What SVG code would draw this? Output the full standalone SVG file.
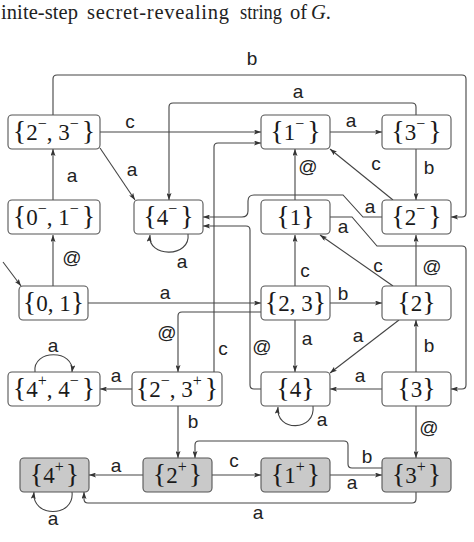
<svg xmlns="http://www.w3.org/2000/svg" width="474" height="542" viewBox="0 0 474 542">
<style>
.bx{fill:#fff;stroke:#555;stroke-width:1.1}
.sh{fill:#c9c9c9;stroke:#555;stroke-width:1.1}
.nl{font-family:"Liberation Serif",serif;font-size:23px;fill:#1a1a1a;text-anchor:middle}
.br{font-size:28px}
.sp{font-size:16px}
.ed{fill:none;stroke:#444;stroke-width:1.1;marker-end:url(#ah)}
.el{font-family:"Liberation Sans",sans-serif;font-size:19px;fill:#222;text-anchor:middle}
.hd{font-family:"Liberation Serif",serif;font-size:20.5px;fill:#222}
</style>
<defs>
<marker id="ah" viewBox="0 0 7 5" refX="7" refY="2.5" markerWidth="7" markerHeight="5" markerUnits="userSpaceOnUse" orient="auto">
<path d="M0,0 L7,2.5 L0,5 L1.5,2.5 z" fill="#333"/>
</marker>
</defs>
<rect width="474" height="542" fill="#fff"/>
<g id="caption">
<text class="hd" x="1" y="19" textLength="77" lengthAdjust="spacing">inite-step</text>
<text class="hd" x="87" y="19" textLength="142" lengthAdjust="spacing">secret-revealing</text>
<text class="hd" x="240" y="19" textLength="42" lengthAdjust="spacingAndGlyphs">string</text>
<text class="hd" x="290" y="19">of</text>
<text class="hd" x="311" y="19"><tspan font-style="italic">G</tspan>.</text>
</g>

<g id="connectors">
<path class="ed" d="M3,262 L21,286"/>
<path class="ed" d="M53,286 V235"/>
<path class="ed" d="M53,200 V149"/>
<path class="ed" d="M100,132 H261"/>
<path class="ed" d="M100,148 L135,200"/>
<path class="ed" d="M53,115 V79 Q53,75 57,75 H462 Q466,75 466,79 V213 Q466,217 462,217 H451"/>
<path class="ed" d="M416,115 V107 Q416,103 412,103 H173 Q169,103 169,107 V200"/>
<path class="ed" d="M330,132 H382"/>
<path class="ed" d="M295,200 V149"/>
<path class="ed" d="M393,200 L330,149"/>
<path class="ed" d="M416,149 V200"/>
<path class="ed" d="M382,217 H363 L343,195 H254 Q248,195 248,201 V211 Q248,217 242,217 H203"/>
<path class="ed" d="M330,217 H352 L377,246 H462 Q466,246 466,250 V385 Q466,389 462,389 H451"/>
<path class="ed" d="M261,389 H254 Q250,389 250,385 V230 Q250,226 246,226 H203"/>
<path class="ed" d="M214,372 V147 Q214,143 218,143 H261"/>
<path class="ed" d="M88,303 H261"/>
<path class="ed" d="M261,312 H182 Q178,312 178,316 V372"/>
<path class="ed" d="M295,286 V235"/>
<path class="ed" d="M393,286 L320,235"/>
<path class="ed" d="M416,286 V235"/>
<path class="ed" d="M330,303 H382"/>
<path class="ed" d="M295,320 V372"/>
<path class="ed" d="M399,320 L330,373"/>
<path class="ed" d="M382,389 H330"/>
<path class="ed" d="M416,372 V320"/>
<path class="ed" d="M313,406 C316,432 275,432 278,407"/>
<path class="ed" d="M416,406 V458"/>
<path class="ed" d="M188,234 C191,258 147,258 150,235"/>
<path class="ed" d="M132,389 H100"/>
<path class="ed" d="M35,372 C32,349 75,349 72,372"/>
<path class="ed" d="M178,406 V458"/>
<path class="ed" d="M382,468 H352 Q348,468 348,464 V445 Q348,441 344,441 H199 Q195,441 195,445 V458"/>
<path class="ed" d="M212,475 H261"/>
<path class="ed" d="M330,475 H382"/>
<path class="ed" d="M143,475 H89"/>
<path class="ed" d="M72,492 C75,518 31,518 34,492"/>
<path class="ed" d="M416,492 V499 Q416,503 412,503 H88 Q84,503 84,499 V492"/>
</g>

<g id="edge-labels">
<text class="el" x="252" y="65">b</text>
<text class="el" x="298" y="98">a</text>
<text class="el" x="130" y="128">c</text>
<text class="el" x="351" y="127">a</text>
<text class="el" x="72" y="182">a</text>
<text class="el" x="132" y="176">a</text>
<text class="el" x="72" y="264">@</text>
<text class="el" x="182" y="268">a</text>
<text class="el" x="308" y="173">@</text>
<text class="el" x="376" y="170">c</text>
<text class="el" x="429" y="174">b</text>
<text class="el" x="370" y="213">a</text>
<text class="el" x="343" y="233">a</text>
<text class="el" x="305" y="277">c</text>
<text class="el" x="378" y="272">c</text>
<text class="el" x="432" y="273">@</text>
<text class="el" x="165" y="299">a</text>
<text class="el" x="167" y="339">@</text>
<text class="el" x="223" y="355">c</text>
<text class="el" x="53" y="352">a</text>
<text class="el" x="116" y="382">a</text>
<text class="el" x="343" y="300">b</text>
<text class="el" x="307" y="345">a</text>
<text class="el" x="262" y="353">@</text>
<text class="el" x="358" y="342">a</text>
<text class="el" x="429" y="352">b</text>
<text class="el" x="360" y="382">a</text>
<text class="el" x="322" y="426">a</text>
<text class="el" x="429" y="434">@</text>
<text class="el" x="193" y="428">b</text>
<text class="el" x="116" y="472">a</text>
<text class="el" x="234" y="467">c</text>
<text class="el" x="367" y="463">b</text>
<text class="el" x="352" y="489">a</text>
<text class="el" x="53" y="525">a</text>
<text class="el" x="258" y="519">a</text>
</g>

<g id="n-2m3m"><rect class="bx" x="8" y="115" width="92" height="34" rx="4"/><text class="nl" x="54" y="140"><tspan class="br">{</tspan>2<tspan class="sp" dy="-11">−</tspan><tspan dy="11">, 3</tspan><tspan class="sp" dy="-11">−</tspan><tspan class="br" dy="11" dx="3">}</tspan></text></g>
<g id="n-0m1m"><rect class="bx" x="8" y="200" width="92" height="34" rx="4"/><text class="nl" x="54" y="225"><tspan class="br">{</tspan>0<tspan class="sp" dy="-11">−</tspan><tspan dy="11">, 1</tspan><tspan class="sp" dy="-11">−</tspan><tspan class="br" dy="11" dx="3">}</tspan></text></g>
<g id="n-01"><rect class="bx" x="19" y="286" width="69" height="34" rx="4"/><text class="nl" x="53.5" y="311"><tspan class="br">{</tspan>0, 1<tspan class="br">}</tspan></text></g>
<g id="n-4p4m"><rect class="bx" x="8" y="372" width="92" height="34" rx="4"/><text class="nl" x="54" y="397"><tspan class="br">{</tspan>4<tspan class="sp" dy="-11">+</tspan><tspan dy="11">, 4</tspan><tspan class="sp" dy="-11">−</tspan><tspan class="br" dy="11" dx="3">}</tspan></text></g>
<g id="n-4p"><rect class="sh" x="20" y="458" width="69" height="34" rx="4"/><text class="nl" x="54.5" y="483"><tspan class="br">{</tspan>4<tspan class="sp" dy="-11">+</tspan><tspan class="br" dy="11" dx="2">}</tspan></text></g>
<g id="n-4m"><rect class="bx" x="134" y="200" width="69" height="34" rx="4"/><text class="nl" x="168.5" y="225"><tspan class="br">{</tspan>4<tspan class="sp" dy="-11">−</tspan><tspan class="br" dy="11" dx="3">}</tspan></text></g>
<g id="n-2m3p"><rect class="bx" x="132" y="372" width="90" height="34" rx="4"/><text class="nl" x="177" y="397"><tspan class="br">{</tspan>2<tspan class="sp" dy="-11">−</tspan><tspan dy="11">, 3</tspan><tspan class="sp" dy="-11">+</tspan><tspan class="br" dy="11" dx="3">}</tspan></text></g>
<g id="n-2p"><rect class="sh" x="143" y="458" width="69" height="34" rx="4"/><text class="nl" x="177.5" y="483"><tspan class="br">{</tspan>2<tspan class="sp" dy="-11">+</tspan><tspan class="br" dy="11" dx="2">}</tspan></text></g>
<g id="n-1m"><rect class="bx" x="261" y="115" width="69" height="34" rx="4"/><text class="nl" x="295.5" y="140"><tspan class="br">{</tspan>1<tspan class="sp" dy="-11">−</tspan><tspan class="br" dy="11" dx="3">}</tspan></text></g>
<g id="n-1"><rect class="bx" x="261" y="200" width="69" height="34" rx="4"/><text class="nl" x="295.5" y="225"><tspan class="br">{</tspan>1<tspan class="br">}</tspan></text></g>
<g id="n-23"><rect class="bx" x="261" y="286" width="69" height="34" rx="4"/><text class="nl" x="295.5" y="311"><tspan class="br">{</tspan>2, 3<tspan class="br">}</tspan></text></g>
<g id="n-4"><rect class="bx" x="261" y="372" width="69" height="34" rx="4"/><text class="nl" x="295.5" y="397"><tspan class="br">{</tspan>4<tspan class="br">}</tspan></text></g>
<g id="n-1p"><rect class="sh" x="261" y="458" width="69" height="34" rx="4"/><text class="nl" x="295.5" y="483"><tspan class="br">{</tspan>1<tspan class="sp" dy="-11">+</tspan><tspan class="br" dy="11" dx="2">}</tspan></text></g>
<g id="n-3m"><rect class="bx" x="382" y="115" width="69" height="34" rx="4"/><text class="nl" x="416.5" y="140"><tspan class="br">{</tspan>3<tspan class="sp" dy="-11">−</tspan><tspan class="br" dy="11" dx="3">}</tspan></text></g>
<g id="n-2m"><rect class="bx" x="382" y="200" width="69" height="34" rx="4"/><text class="nl" x="416.5" y="225"><tspan class="br">{</tspan>2<tspan class="sp" dy="-11">−</tspan><tspan class="br" dy="11" dx="3">}</tspan></text></g>
<g id="n-2"><rect class="bx" x="382" y="286" width="69" height="34" rx="4"/><text class="nl" x="416.5" y="311"><tspan class="br">{</tspan>2<tspan class="br">}</tspan></text></g>
<g id="n-3"><rect class="bx" x="382" y="372" width="69" height="34" rx="4"/><text class="nl" x="416.5" y="397"><tspan class="br">{</tspan>3<tspan class="br">}</tspan></text></g>
<g id="n-3p"><rect class="sh" x="382" y="458" width="69" height="34" rx="4"/><text class="nl" x="416.5" y="483"><tspan class="br">{</tspan>3<tspan class="sp" dy="-11">+</tspan><tspan class="br" dy="11" dx="2">}</tspan></text></g>
</svg>
